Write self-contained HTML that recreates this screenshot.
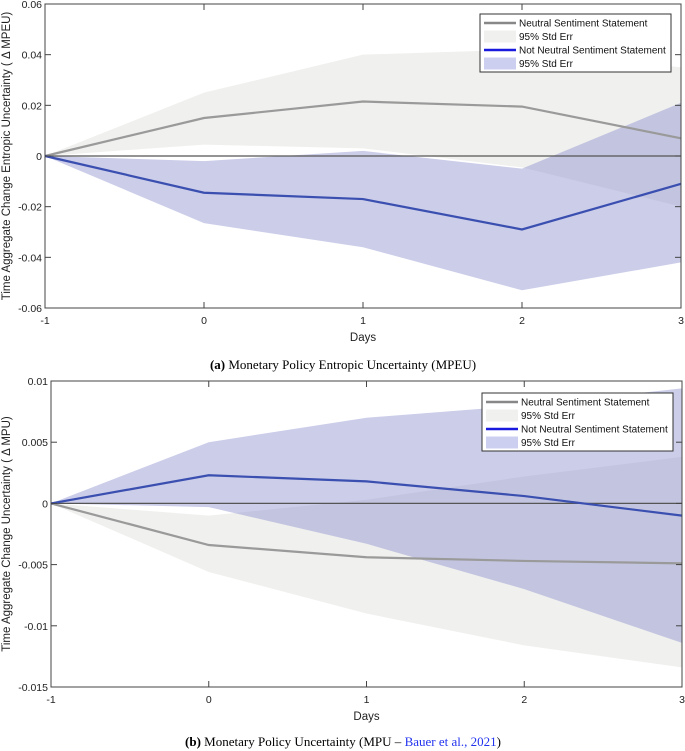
<!DOCTYPE html>
<html><head><meta charset="utf-8"><style>
body{margin:0;background:#fff;width:685px;height:751px;overflow:hidden}
svg{display:block}
text{font-family:"Liberation Sans",sans-serif}
.cap{font-family:"Liberation Serif",serif;font-size:13px}
</style></head><body>
<svg id="svg" width="685" height="751" xmlns="http://www.w3.org/2000/svg"></svg>
<script>
const days = [-1, 0, 1, 2, 3];
const xTicks = ['-1', '0', '1', '2', '3'];
// Panel A (MPEU)
const aNeutral = [0, 0.015, 0.0215, 0.0195, 0.007];
const aNeutralUp = [0, 0.025, 0.040, 0.042, 0.035];
const aNeutralLo = [0, 0.0045, 0.003, -0.0045, -0.020];
const aNot = [0, -0.0145, -0.017, -0.029, -0.011];
const aNotUp = [0, -0.002, 0.002, -0.005, 0.021];
const aNotLo = [0, -0.0265, -0.036, -0.053, -0.042];
const aYTicks = [0.06, 0.04, 0.02, 0, -0.02, -0.04, -0.06];
const aYLabels = ['0.06', '0.04', '0.02', '0', '-0.02', '-0.04', '-0.06'];
// Panel B (MPU)
const bNeutral = [0, -0.0034, -0.0044, -0.0047, -0.0049];
const bNeutralUp = [0, -0.001, 0.0003, 0.0022, 0.0038];
const bNeutralLo = [0, -0.0056, -0.009, -0.0116, -0.0134];
const bNot = [0, 0.0023, 0.0018, 0.0006, -0.001];
const bNotUp = [0, 0.005, 0.007, 0.008, 0.0094];
const bNotLo = [0, -0.0003, -0.0033, -0.007, -0.0114];
const bYTicks = [0.01, 0.005, 0, -0.005, -0.01, -0.015];
const bYLabels = ['0.01', '0.005', '0', '-0.005', '-0.01', '-0.015'];

const NS = 'http://www.w3.org/2000/svg';
const svg = document.getElementById('svg');
function mk(tag, attrs, parent) {
  const e = document.createElementNS(NS, tag);
  for (const k in attrs) e.setAttribute(k, attrs[k]);
  (parent || svg).appendChild(e);
  return e;
}
function panel(p) {
  const g = mk('g', {});
  
  
  const X = v => p.l + (v - days[0]) / (days[days.length - 1] - days[0]) * (p.r - p.l);
  const Y = v => p.t + (p.ymax - v) / (p.ymax - p.ymin) * (p.b - p.t);
  const band = (up, lo, fill, op, nm) => {
    let pts = days.map((d, i) => X(d) + ',' + Y(up[i]));
    pts = pts.concat(days.map((d, i) => X(d) + ',' + Y(lo[i])).reverse());
    const e = mk('polygon', {points: pts.join(' '), fill: fill, 'fill-opacity': op}, g);
    
    
  };
  band(p.nUp, p.nLo, '#f0f0ee', 1, 'neutral-std-err-band');
  band(p.mUp, p.mLo, '#8c90cf', 0.45, 'not-neutral-std-err-band');
  // zero line
  const z = mk('line', {x1: p.l, x2: p.r, y1: Y(0), y2: Y(0), stroke: '#555', 'stroke-width': 1.2}, g);
  
  
  const line = (vals, col, nm) => {
    const e = mk('polyline', {points: days.map((d, i) => X(d) + ',' + Y(vals[i])).join(' '), fill: 'none', stroke: col, 'stroke-width': 2.2}, g);
    
    
  };
  line(p.n, '#9a9a9a', 'neutral-line');
  line(p.m, '#3a4fb0', 'not-neutral-line');
  // frame
  const fr = mk('rect', {x: p.l, y: p.t, width: p.r - p.l, height: p.b - p.t, fill: 'none', stroke: '#444', 'stroke-width': 1}, g);
  
  
  days.forEach((d, i) => {
    mk('line', {x1: X(d), x2: X(d), y1: p.b, y2: p.b - 6, stroke: '#444'}, g);
    mk('line', {x1: X(d), x2: X(d), y1: p.t, y2: p.t + 6, stroke: '#444'}, g);
    const t = mk('text', {x: X(d), y: p.b + 16, 'font-size': 10.5, 'text-anchor': 'middle', fill: '#222'}, g);
    t.textContent = xTicks[i];
    
    
  });
  p.yt.forEach((v, i) => {
    mk('line', {x1: p.l, x2: p.l + 6, y1: Y(v), y2: Y(v), stroke: '#444'}, g);
    mk('line', {x1: p.r, x2: p.r - 6, y1: Y(v), y2: Y(v), stroke: '#444'}, g);
    const t = mk('text', {x: p.l - 3, y: Y(v) + 4, 'font-size': 10.5, 'text-anchor': 'end', fill: '#222'}, g);
    t.textContent = p.yl[i];
    
    
  });
  const xt = mk('text', {x: (p.l + p.r) / 2, y: p.b + 33, 'font-size': 11.5, 'text-anchor': 'middle', fill: '#222'}, g);
  xt.textContent = 'Days';
  
  
  const cy = (p.t + p.b) / 2;
  const yt = mk('text', {x: 0, y: 0, 'font-size': 11.5, 'text-anchor': 'middle', fill: '#222', transform: 'translate(10,' + cy + ') rotate(-90)'}, g);
  yt.textContent = p.ytitle;
  
  
  // legend
  const lg = mk('g', {}, g);
  
  
  mk('rect', {x: p.lx, y: p.ly, width: 191, height: 58, fill: '#fff', stroke: '#333'}, lg);
  const items = [['line', '#888', 'Neutral Sentiment Statement'], ['patch', '#f0f0ee', '95% Std Err'], ['line', '#1a1adf', 'Not Neutral Sentiment Statement'], ['patch', '#cdcff0', '95% Std Err']];
  items.forEach((it, i) => {
    const ry = p.ly + 9 + i * 13.5;
    if (it[0] === 'line') mk('line', {x1: p.lx + 4, x2: p.lx + 36, y1: ry, y2: ry, stroke: it[1], 'stroke-width': 2.5}, lg);
    else mk('rect', {x: p.lx + 4, y: ry - 6, width: 32, height: 12, fill: it[1]}, lg);
    const t = mk('text', {x: p.lx + 39, y: ry + 3.5, 'font-size': 10, fill: '#111'}, lg);
    t.textContent = it[2];
    
    
  });
}
panel({name: 'panel-a-mpeu', l: 45, r: 681, t: 4, b: 308, ymin: -0.06, ymax: 0.06, yt: aYTicks, yl: aYLabels,
  n: aNeutral, nUp: aNeutralUp, nLo: aNeutralLo, m: aNot, mUp: aNotUp, mLo: aNotLo,
  ytitle: 'Time Aggregate Change Entropic Uncertainty ( \u0394 MPEU)', lx: 480, ly: 14});
panel({name: 'panel-b-mpu', l: 51, r: 682, t: 381, b: 687, ymin: -0.015, ymax: 0.01, yt: bYTicks, yl: bYLabels,
  n: bNeutral, nUp: bNeutralUp, nLo: bNeutralLo, m: bNot, mUp: bNotUp, mLo: bNotLo,
  ytitle: 'Time Aggregate Change Uncertainty ( \u0394 MPU)', lx: 482, ly: 393});
</script>
<svg style="position:absolute;left:0;top:0" width="685" height="751">
<text class="cap" x="343" y="369" text-anchor="middle"><tspan font-weight="bold">(a)</tspan> Monetary Policy Entropic Uncertainty (MPEU)</text>
<text class="cap" x="343" y="746" text-anchor="middle"><tspan font-weight="bold">(b)</tspan> Monetary Policy Uncertainty (MPU – <tspan fill="#2233ee">Bauer et al., 2021</tspan>)</text>
</svg>
</body></html>
